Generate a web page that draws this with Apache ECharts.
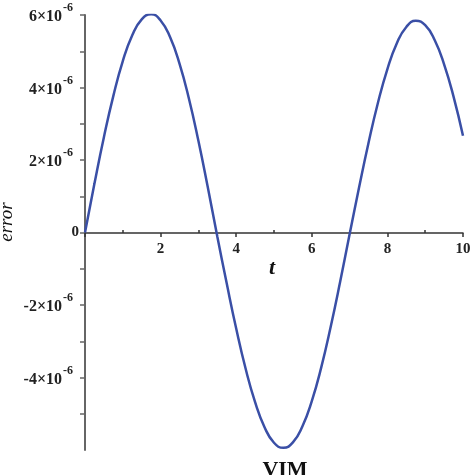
<!DOCTYPE html>
<html>
<head>
<meta charset="utf-8">
<script src="https://cdn.jsdelivr.net/npm/echarts@6/dist/echarts.min.js"></script>
<style>
html,body{margin:0;padding:0;background:#fff;}
#c{width:474px;height:475px;}
</style>
</head>
<body>
<div id="c"></div>
<script>
// t values
var tValues = [0,0.25,0.5,0.75,1,1.25,1.5,1.75,2,2.25,2.5,2.75,3,3.25,3.5,3.75,4,4.25,4.5,4.75,5,5.25,5.5,5.75,6,6.25,6.5,6.75,7,7.25,7.5,7.75,8,8.25,8.5,8.75,9,9.25,9.5,9.75,10];
// error values (x 1e-6)
var errorValues = [0,1.35,2.63,3.77,4.73,5.44,5.88,6.02,5.85,5.39,4.66,3.69,2.53,1.24,-0.11,-1.41,-2.65,-3.76,-4.68,-5.37,-5.80,-5.94,-5.79,-5.35,-4.65,-3.72,-2.60,-1.36,-0.05,1.24,2.47,3.58,4.51,5.22,5.67,5.84,5.72,5.31,4.64,3.75,2.67];
var errorScale = 1e-6;
var xLabelValues = [2,4,6,8,10];
var xMinorTicks = [1,3,5,7,9];
var yLabelValues = [-4,-2,0,2,4,6];
var yTickValues = [-5,-4,-3,-2,-1,0,1,2,3,4,5,6];

var data = tValues.map(function(t,i){ return [t, errorValues[i]*errorScale]; });
var serif = '"Liberation Serif","DejaVu Serif",serif';

var chart = echarts.init(document.getElementById('c'));
chart.setOption({
  animation:false,
  backgroundColor:'#fff',
  grid:[
    {left:85,right:11,top:15,bottom:25,containLabel:false},
    {left:85,right:11,top:15,bottom:242,containLabel:false}
  ],
  xAxis:[{
    gridIndex:0,type:'value',min:0,max:10,show:false
  },{
    gridIndex:1,type:'value',min:0,max:10,interval:2,position:'bottom',
    axisLine:{onZero:false,lineStyle:{color:'#333',width:1.5}},
    axisTick:{show:true,length:4,lineStyle:{color:'#333',width:1.5}},
    splitLine:{show:false},
    axisLabel:{margin:9,color:'#222',fontFamily:serif,fontSize:15,fontWeight:'bold',
      customValues:xLabelValues}
  },{
    gridIndex:1,type:'value',min:0,max:10,position:'bottom',
    axisLine:{show:false,onZero:false},
    axisTick:{show:true,inside:true,length:3,customValues:xMinorTicks,lineStyle:{color:'#333',width:1.5}},
    axisLabel:{show:false},
    splitLine:{show:false}
  }],
  yAxis:[{
    gridIndex:0,type:'value',min:-6e-6,max:6e-6,interval:1e-6,
    axisLine:{onZero:false,lineStyle:{color:'#666',width:2}},
    axisTick:{show:true,length:5,customValues:yTickValues.map(function(v){return v*errorScale;}),lineStyle:{color:'#666',width:1.5}},
    splitLine:{show:false},
    axisLabel:{
      margin:6,
      customValues:yLabelValues.map(function(v){return v*errorScale;}),
      formatter:function(v){
        var n = Math.round(v/errorScale);
        if(n===0) return '{z|0}';
        return '{b|' + n + '×10}{s|-6}';
      },
      rich:{
        z:{fontFamily:serif,fontSize:15,fontWeight:'bold',color:'#222'},
        b:{fontFamily:serif,fontSize:16,fontWeight:'bold',color:'#222',padding:[4,0,0,0]},
        s:{fontFamily:serif,fontSize:12,fontWeight:'bold',color:'#222',padding:[0,6,14,1]}
      }
    }
  },{
    gridIndex:1,type:'value',min:0,max:1,show:false
  }],
  series:[{
    type:'line',xAxisIndex:0,yAxisIndex:0,data:data,smooth:true,showSymbol:false,z:5,
    lineStyle:{color:'#3a4fa6',width:2.5}
  }],
  graphic:[
    {type:'text',x:272,y:268,style:{text:'t',fontFamily:serif,fontSize:22,fontStyle:'italic',fontWeight:'bold',fill:'#111',align:'center',verticalAlign:'middle'}},
    {type:'text',x:7,y:222,rotation:Math.PI/2,style:{text:'error',fontFamily:serif,fontSize:19,fontStyle:'italic',fill:'#111',align:'center',verticalAlign:'middle'}},
    {type:'text',x:285,y:470,style:{text:'VIM',fontFamily:serif,fontSize:22,fontWeight:'bold',fill:'#111',align:'center',verticalAlign:'middle'}}
  ]
});
</script>
</body>
</html>
